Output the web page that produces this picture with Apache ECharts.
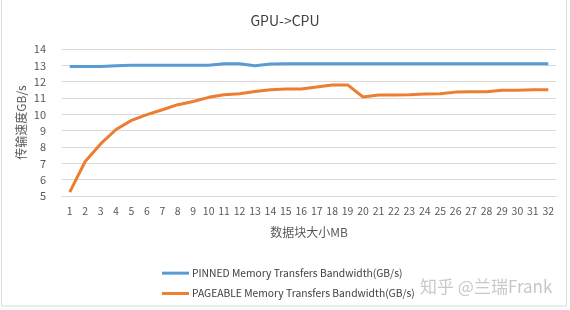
<!DOCTYPE html>
<html><head><meta charset="utf-8">
<script src="https://cdn.jsdelivr.net/npm/echarts@6/dist/echarts.min.js"></script>
<style>html,body{margin:0;padding:0;background:#fff}#c{width:570px;height:310px}</style>
</head><body><div id="c"></div>
<script>
const categories = ['1','2','3','4','5','6','7','8','9','10','11','12','13','14','15','16','17','18','19','20','21','22','23','24','25','26','27','28','29','30','31','32'];
const pinned = [12.93,12.93,12.93,12.97,13.0,13.0,13.0,13.0,13.0,13.0,13.1,13.1,12.98,13.08,13.1,13.1,13.1,13.1,13.1,13.1,13.1,13.1,13.1,13.1,13.1,13.1,13.1,13.1,13.1,13.1,13.1,13.1];
const pageable = [5.24,7.11,8.19,9.07,9.63,9.98,10.28,10.59,10.79,11.04,11.2,11.26,11.4,11.5,11.55,11.55,11.67,11.8,11.8,11.06,11.18,11.18,11.2,11.24,11.26,11.36,11.38,11.38,11.48,11.48,11.5,11.5];
const yTicks = {min:5, max:14, interval:1};
const ff = '"Noto Sans CJK SC", "Open Sans", sans-serif';
const chart = echarts.init(document.getElementById('c'));
chart.setOption({
  animation:false,
  title:{text:'GPU->CPU', left:'center', top:9, textStyle:{fontFamily:ff, fontSize:14, fontWeight:'normal', color:'#404040'}},
  grid:{left:62, right:14, top:49, bottom:114},
  legend:{orient:'vertical', left:157, top:263, itemWidth:27, itemHeight:3, itemGap:10, icon:'rect',
    textStyle:{fontFamily:ff, fontSize:10.3, color:'#404040', padding:[0,0,0,-2]},
    data:['PINNED Memory Transfers Bandwidth(GB/s)','PAGEABLE Memory Transfers Bandwidth(GB/s)']},
  xAxis:{type:'category', data:categories, boundaryGap:true, name:'数据块大小MB', nameLocation:'middle', nameGap:30, nameMoveOverlap:false,
    nameTextStyle:{fontFamily:ff, fontSize:12, color:'#595959'},
    axisLine:{lineStyle:{color:'#d9d9d9'}}, axisTick:{show:false},
    axisLabel:{interval:0, fontFamily:ff, fontSize:10.5, color:'#595959', margin:10}},
  yAxis:{type:'value', min:yTicks.min, max:yTicks.max, interval:yTicks.interval, name:'传输速度GB/s', nameLocation:'middle', nameGap:35, nameMoveOverlap:false,
    nameTextStyle:{fontFamily:ff, fontSize:12, color:'#595959'},
    axisLine:{show:false}, axisTick:{show:false},
    axisLabel:{fontFamily:ff, fontSize:11, color:'#595959', margin:16},
    splitLine:{lineStyle:{color:'#d9d9d9'}}},
  series:[
    {name:'PINNED Memory Transfers Bandwidth(GB/s)', type:'line', data:pinned, showSymbol:false, symbol:'none', lineStyle:{width:3, color:'#5B9BD5'}, itemStyle:{color:'#5B9BD5'}},
    {name:'PAGEABLE Memory Transfers Bandwidth(GB/s)', type:'line', data:pageable, showSymbol:false, symbol:'none', lineStyle:{width:3, color:'#ED7D31'}, itemStyle:{color:'#ED7D31'}}
  ],
  graphic:[
    {type:'rect', shape:{x:1.5, y:-2, width:565, height:308}, style:{fill:'none', stroke:'#d9d9d9', lineWidth:1}},
    {type:'text', left:420, top:278, style:{text:'知乎 @兰瑞Frank', font:'17px '+ff, fill:'#c8c8c8'}}
  ]
});
</script></body></html>
